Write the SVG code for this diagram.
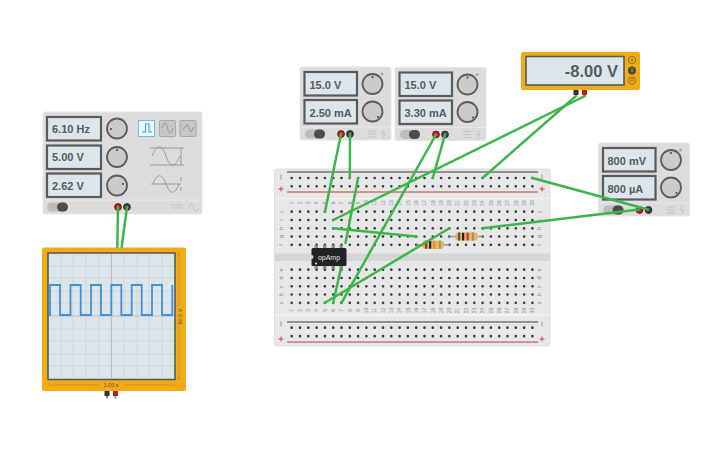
<svg xmlns="http://www.w3.org/2000/svg" xmlns:xlink="http://www.w3.org/1999/xlink" width="725" height="453" viewBox="0 0 725 453">
<style>
text{font-family:"Liberation Sans",Arial,sans-serif}
.panel{fill:#dcdcdc;stroke:#e6e6e6;stroke-width:1}
.disp{fill:#dce5ea;stroke:#555b5e;stroke-width:2.2}
.val{font-size:11px;font-weight:700;fill:#565b5e}
.knob{fill:#cbcbcb;stroke:#5c5c5c;stroke-width:1.8}
.dot{fill:#444}
.foot{fill:none;stroke:#e9e9e9;stroke-width:1}
.tog{fill:#bdbdbd}
.togk{fill:#4a4d4f}
.red{fill:#c8171e;stroke:#7a1a1a;stroke-width:1}
.blk{fill:#3c4447;stroke:#2a2f31;stroke-width:1}
.wire{stroke:#3cb54a;stroke-width:2.5;fill:none;stroke-linecap:round}
.holes{stroke:#3a3f42;stroke-width:2.7;stroke-linecap:round;stroke-dasharray:0 8.3;fill:none}
.num{font-size:4.8px;fill:#8a8a8a;text-anchor:middle}
.let{font-size:5.5px;fill:#8a8a8a;text-anchor:middle}
.grid{stroke:#cfd8dc;stroke-width:1}
.btn{fill:#c6c6c6;stroke:#a8a8a8;stroke-width:1}
.sym{fill:none;stroke:#8a8a8a;stroke-width:.8}
.pin{fill:#8d8d8d}
.lead{stroke:#999;stroke-width:1.6}
.body{fill:#d9b873}
</style>
<defs>
<g id="psu">
<rect class="panel" x="0" y="0" width="91" height="73" rx="2"/>
<rect class="disp" x="4.5" y="5" width="52.5" height="23.5"/>
<rect class="disp" x="4.5" y="33" width="52.5" height="23.5"/>
<circle class="knob" cx="72.5" cy="17" r="10"/>
<circle class="knob" cx="72.5" cy="44.5" r="10"/>
<circle class="dot" cx="72.5" cy="10" r="1"/>
<circle class="dot" cx="78" cy="50" r="1"/>
<circle cx="82" cy="7" r="1.5" fill="#5fe04a"/>
<line class="foot" x1="0" y1="60" x2="91" y2="60"/>
<rect class="tog" x="5" y="62.500" width="20" height="9" rx="4.500"/>
<rect class="togk" x="14" y="62.500" width="11" height="9" rx="4.500"/>
<circle class="red" cx="41" cy="67" r="3.400"/>
<circle class="blk" cx="50" cy="67" r="3.400"/>
<path class="sym" stroke-opacity=".4" d="M68 64h8M68 67h8M68 70h8M84 63l-2 4h3l-2 4"/>
</g>
</defs>

<g id="function-generator">
<rect class="panel" x="43" y="112" width="159" height="102" rx="2"/>
<rect class="disp" x="47" y="117" width="54" height="23.500"/>
<rect class="disp" x="47" y="145.500" width="54" height="23.500"/>
<rect class="disp" x="47" y="173.500" width="54" height="23.500"/>
<text class="val" x="52" y="132.500">6.10 Hz</text>
<text class="val" x="52" y="161">5.00 V</text>
<text class="val" x="52" y="189.500">2.62 V</text>
<circle class="knob" cx="117" cy="128.500" r="10"/>
<circle class="knob" cx="117" cy="157" r="10"/>
<circle class="knob" cx="117" cy="185.500" r="10"/>
<circle class="dot" cx="111" cy="129" r="1"/><circle class="dot" cx="117" cy="150" r="1"/><circle class="dot" cx="123" cy="184" r="1"/>
<rect x="138.500" y="120.500" width="16" height="16" fill="#eef6fa" stroke="#5cc4ea" stroke-width="1"/>
<path d="M142 132h3.500v-8h3.500v8h3" fill="none" stroke="#3fa6d2" stroke-width="1.100"/>
<rect class="btn" x="159.500" y="120.500" width="16" height="16" rx="1"/>
<path class="sym" stroke="#555" d="M162 128c2-7 4-7 5.500 0s3.500 7 5.500 0"/>
<rect class="btn" x="180" y="120.500" width="16" height="16" rx="1"/>
<path class="sym" d="M183 130l4-6 4 8 3-5"/>
<path class="sym" d="M150 148h34M150 165h34M152 156c5-12 10-12 14 0s9 12 14 0M181 148v17"/>
<path class="sym" d="M151 184h30M153 184c4-11 9-11 13 0s9 11 13 0M181 177v4M181 187v4"/>
<line class="foot" x1="43" y1="200" x2="202" y2="200"/>
<rect class="tog" x="47" y="202.500" width="20" height="9" rx="4.500"/>
<rect class="togk" x="57" y="202.500" width="11" height="9" rx="4.500"/>
<circle class="red" cx="118" cy="207" r="3.400"/>
<circle class="blk" cx="127" cy="207" r="3.400"/>
<path class="sym" stroke-opacity=".4" d="M171 205h12M171 208h12M189 208c2-6 4-6 5 0s3 3 5 0"/>
</g>

<g id="oscilloscope">
<rect x="42" y="247.500" width="144" height="143.500" rx="2" fill="#f0ab17"/>
<rect x="48" y="253" width="127" height="126.500" fill="#dce5ea" stroke="#555b5e" stroke-width="1.600"/>
<path class="grid" d="M61 254v125M73 254v125M86 254v125M99 254v125M124 254v125M137 254v125M149 254v125M162 254v125M49 266h125M49 278h125M49 291h125M49 303h125M49 329h125M49 341h125M49 354h125M49 366h125"/>
<path d="M111.500 254v125M49 316h125" stroke="#b7bfc3" stroke-width="1.200" fill="none"/>
<path d="M50 316V285H60V315H70.500V285H80.700V315H91V285H101V315H111.300V285H121.300V315H131.700V285H141.700V315H152V285H162V315H172.300V285" fill="none" stroke="#3f92da" stroke-width="1.800"/>
<path d="M179 254v52M179 327v52M177.500 254h3M177.500 379h3M49 385h50M124 385h50M49 383.500v3M174 383.500v3" stroke="#c58a10" stroke-width=".7" fill="none"/>
<text x="111" y="387" font-size="5.500" fill="#5c5435" text-anchor="middle">1.00 s</text>
<text transform="translate(182 316.500) rotate(-90)" font-size="5.500" fill="#5c5435" text-anchor="middle">50.0 V</text>
<rect x="104.500" y="391" width="5" height="5" fill="#2e3335"/><rect x="106" y="396" width="2" height="2.500" fill="#7b9a80"/>
<rect x="113" y="391" width="5" height="5" fill="#b8201f"/><rect x="114.500" y="396" width="2" height="2.500" fill="#7b9a80"/>
</g>

<g id="power-supply-1">
<use xlink:href="#psu" href="#psu" x="300" y="67"/>
<text class="val" x="309.500" y="88.500">15.0 V</text>
<text class="val" x="309.500" y="116.500">2.50 mA</text>
</g>
<g id="power-supply-2">
<use xlink:href="#psu" href="#psu" x="395" y="67.500"/>
<text class="val" x="404.500" y="89">15.0 V</text>
<text class="val" x="404.500" y="117">3.30 mA</text>
</g>
<g id="power-supply-3">
<use xlink:href="#psu" href="#psu" x="598.500" y="143"/>
<text class="val" x="607.500" y="164.500">800 mV</text>
<text class="val" x="607.500" y="192.500">800 µA</text>
</g>

<g id="voltmeter">
<rect x="521" y="52" width="119" height="38" rx="2" fill="#f0ab17"/>
<rect x="526" y="56.500" width="98" height="28.500" fill="#dce5ea" stroke="#555b5e" stroke-width="1.600"/>
<text x="618" y="77" font-size="16.500" font-weight="700" fill="#565b5e" text-anchor="end">-8.00 V</text>
<circle cx="632" cy="60" r="3.700" fill="none" stroke="#7a6a30" stroke-width=".8"/>
<text x="632" y="61.800" font-size="5" fill="#7a6a30" text-anchor="middle">A</text>
<circle cx="632" cy="70.500" r="4" fill="#4a4a3c"/>
<text x="632" y="72.300" font-size="5" fill="#c9a030" text-anchor="middle">V</text>
<circle cx="632" cy="80.500" r="3.700" fill="none" stroke="#7a6a30" stroke-width=".8"/>
<text x="632" y="82.300" font-size="5" fill="#7a6a30" text-anchor="middle">R</text>
<rect x="573.500" y="90" width="5" height="5" fill="#2e3335"/><rect x="575" y="95" width="2" height="2" fill="#7b9a80"/>
<rect x="582" y="90" width="5" height="5" fill="#b8201f"/><rect x="583.500" y="95" width="2" height="2" fill="#7b9a80"/>
</g>

<g id="breadboard">
<rect x="274.500" y="169" width="275.500" height="177" rx="2" fill="#e7e7e7" stroke="#dedede" stroke-width="1"/>
<path d="M275 198.500H550M275 315H550" stroke="#f4f4f4" stroke-width="1.500"/>
<rect x="275" y="253.500" width="275" height="7.500" fill="#d6d6d6"/>
<path d="M287 172H538M287 322H538" stroke="#3a3a3a" stroke-width="1"/>
<path d="M287 192H538M287 342H538" stroke="#b5403c" stroke-width="1"/>
<path d="M281 174.500v5M542 174.500v5M281 321.500v5M542 321.500v5" stroke="#9a9a9a" stroke-width="1"/>
<path d="M278.500 189h5M281 186.500v5M539.500 189h5M542 186.500v5M278.500 339h5M281 336.500v5M539.500 339h5M542 336.500v5" stroke="#d9423c" stroke-width="1"/>
<path class="holes" d="M291.700 178H535M291.700 186.300H535M291.700 211.700H535M291.700 220H535M291.700 228.300H535M291.700 236.500H535M291.700 244.800H535M291.700 269.700H535M291.700 278H535M291.700 286.300H535M291.700 294.500H535M291.700 302.800H535M291.700 327.700H535M291.700 336.200H535"/>
<g class="let">
<text transform="translate(283 212) rotate(-90)" class="let">j</text><text transform="translate(283 220) rotate(-90)" class="let">i</text><text transform="translate(283 228.500) rotate(-90)" class="let">h</text><text transform="translate(283 236.500) rotate(-90)" class="let">g</text><text transform="translate(283 245) rotate(-90)" class="let">f</text>
<text transform="translate(541 212) rotate(-90)" class="let">j</text><text transform="translate(541 220) rotate(-90)" class="let">i</text><text transform="translate(541 228.500) rotate(-90)" class="let">h</text><text transform="translate(541 236.500) rotate(-90)" class="let">g</text><text transform="translate(541 245) rotate(-90)" class="let">f</text>
<text transform="translate(283 270) rotate(-90)" class="let">e</text><text transform="translate(283 278) rotate(-90)" class="let">d</text><text transform="translate(283 286.500) rotate(-90)" class="let">c</text><text transform="translate(283 294.500) rotate(-90)" class="let">b</text><text transform="translate(283 303) rotate(-90)" class="let">a</text>
<text transform="translate(541 270) rotate(-90)" class="let">e</text><text transform="translate(541 278) rotate(-90)" class="let">d</text><text transform="translate(541 286.500) rotate(-90)" class="let">c</text><text transform="translate(541 294.500) rotate(-90)" class="let">b</text><text transform="translate(541 303) rotate(-90)" class="let">a</text>
</g>
<g id="column-numbers-top">
<text class="num" transform="translate(293.400 203) rotate(-90)">1</text><text class="num" transform="translate(301.700 203) rotate(-90)">2</text><text class="num" transform="translate(310 203) rotate(-90)">3</text><text class="num" transform="translate(318.300 203) rotate(-90)">4</text><text class="num" transform="translate(326.600 203) rotate(-90)">5</text><text class="num" transform="translate(334.900 203) rotate(-90)">6</text><text class="num" transform="translate(343.200 203) rotate(-90)">7</text><text class="num" transform="translate(351.500 203) rotate(-90)">8</text><text class="num" transform="translate(359.800 203) rotate(-90)">9</text><text class="num" transform="translate(368.100 203) rotate(-90)">10</text><text class="num" transform="translate(376.400 203) rotate(-90)">11</text><text class="num" transform="translate(384.700 203) rotate(-90)">12</text><text class="num" transform="translate(393 203) rotate(-90)">13</text><text class="num" transform="translate(401.300 203) rotate(-90)">14</text><text class="num" transform="translate(409.600 203) rotate(-90)">15</text><text class="num" transform="translate(417.900 203) rotate(-90)">16</text><text class="num" transform="translate(426.200 203) rotate(-90)">17</text><text class="num" transform="translate(434.500 203) rotate(-90)">18</text><text class="num" transform="translate(442.800 203) rotate(-90)">19</text><text class="num" transform="translate(451.100 203) rotate(-90)">20</text><text class="num" transform="translate(459.400 203) rotate(-90)">21</text><text class="num" transform="translate(467.700 203) rotate(-90)">22</text><text class="num" transform="translate(476 203) rotate(-90)">23</text><text class="num" transform="translate(484.300 203) rotate(-90)">24</text><text class="num" transform="translate(492.600 203) rotate(-90)">25</text><text class="num" transform="translate(500.900 203) rotate(-90)">26</text><text class="num" transform="translate(509.200 203) rotate(-90)">27</text><text class="num" transform="translate(517.500 203) rotate(-90)">28</text><text class="num" transform="translate(525.800 203) rotate(-90)">29</text><text class="num" transform="translate(534.100 203) rotate(-90)">30</text>
</g>
<g id="column-numbers-bottom">
<text class="num" transform="translate(293.400 310.500) rotate(-90)">1</text><text class="num" transform="translate(301.700 310.500) rotate(-90)">2</text><text class="num" transform="translate(310 310.500) rotate(-90)">3</text><text class="num" transform="translate(318.300 310.500) rotate(-90)">4</text><text class="num" transform="translate(326.600 310.500) rotate(-90)">5</text><text class="num" transform="translate(334.900 310.500) rotate(-90)">6</text><text class="num" transform="translate(343.200 310.500) rotate(-90)">7</text><text class="num" transform="translate(351.500 310.500) rotate(-90)">8</text><text class="num" transform="translate(359.800 310.500) rotate(-90)">9</text><text class="num" transform="translate(368.100 310.500) rotate(-90)">10</text><text class="num" transform="translate(376.400 310.500) rotate(-90)">11</text><text class="num" transform="translate(384.700 310.500) rotate(-90)">12</text><text class="num" transform="translate(393 310.500) rotate(-90)">13</text><text class="num" transform="translate(401.300 310.500) rotate(-90)">14</text><text class="num" transform="translate(409.600 310.500) rotate(-90)">15</text><text class="num" transform="translate(417.900 310.500) rotate(-90)">16</text><text class="num" transform="translate(426.200 310.500) rotate(-90)">17</text><text class="num" transform="translate(434.500 310.500) rotate(-90)">18</text><text class="num" transform="translate(442.800 310.500) rotate(-90)">19</text><text class="num" transform="translate(451.100 310.500) rotate(-90)">20</text><text class="num" transform="translate(459.400 310.500) rotate(-90)">21</text><text class="num" transform="translate(467.700 310.500) rotate(-90)">22</text><text class="num" transform="translate(476 310.500) rotate(-90)">23</text><text class="num" transform="translate(484.300 310.500) rotate(-90)">24</text><text class="num" transform="translate(492.600 310.500) rotate(-90)">25</text><text class="num" transform="translate(500.900 310.500) rotate(-90)">26</text><text class="num" transform="translate(509.200 310.500) rotate(-90)">27</text><text class="num" transform="translate(517.500 310.500) rotate(-90)">28</text><text class="num" transform="translate(525.800 310.500) rotate(-90)">29</text><text class="num" transform="translate(534.100 310.500) rotate(-90)">30</text>
</g>
</g>

<g id="resistor-1">
<path class="lead" d="M416.500 244.800H449.500"/>
<rect class="body" x="422" y="240.500" width="22" height="8.500" rx="4"/>
<rect x="425" y="240.700" width="2.200" height="8" fill="#7a4a1e"/><rect x="429" y="241" width="2.200" height="7.600" fill="#222"/><rect x="433" y="241" width="2.200" height="7.600" fill="#f08a1d"/><rect x="439" y="240.700" width="1.800" height="8" fill="#b08d3c"/>
</g>
<g id="resistor-2">
<path class="lead" d="M449.500 236.500H482.500"/>
<rect class="body" x="455" y="232.300" width="23" height="8.500" rx="4"/>
<rect x="458" y="232.500" width="2.200" height="8" fill="#7a4a1e"/><rect x="462" y="232.800" width="2.200" height="7.600" fill="#222"/><rect x="466.500" y="232.800" width="2.200" height="7.600" fill="#e22c2c"/><rect x="472" y="232.500" width="1.800" height="8" fill="#b08d3c"/>
</g>

<g id="opamp">
<rect class="pin" x="314.500" y="245" width="3.500" height="4"/><rect class="pin" x="323" y="245" width="3.500" height="4"/><rect class="pin" x="331.500" y="245" width="3.500" height="4"/><rect class="pin" x="339.500" y="245" width="3.500" height="4"/>
<rect class="pin" x="314.500" y="265" width="3.500" height="4"/><rect class="pin" x="323" y="265" width="3.500" height="4"/><rect class="pin" x="331.500" y="265" width="3.500" height="4"/><rect class="pin" x="339.500" y="265" width="3.500" height="4"/>
<rect x="311.500" y="248" width="35" height="18" rx="1.500" fill="#232323"/>
<circle cx="311.500" cy="257" r="2" fill="#d6d6d6"/>
<circle cx="316" cy="263.500" r="1" fill="#eee"/>
<text x="329" y="259.500" font-size="7" fill="#e4e4e4" text-anchor="middle">opAmp</text>
</g>

<g id="connectors">
<path class="wire" d="M118 207L117.300 247"/>
<path class="wire" d="M127 207L121.700 247"/>
<path class="wire" d="M341 134L325 211.700"/>
<path class="wire" d="M350 134L349.800 178"/>
<path class="wire" d="M358.100 178L345.500 243"/>
<path class="wire" d="M341 268L333.200 302.800"/>
<path class="wire" d="M436 134.500L341.500 302.800"/>
<path class="wire" d="M445 134.500L432.800 178"/>
<path class="wire" d="M585 96L333.200 220"/>
<path class="wire" d="M576 96L482.600 178"/>
<path class="wire" d="M532.400 178L648 209.500"/>
<path class="wire" d="M639 209.500L482.600 228.300"/>
<path class="wire" d="M333.200 228.300L416.200 236.500"/>
<path class="wire" d="M324.900 302.800L449.400 228.300"/>
</g>
</svg>
